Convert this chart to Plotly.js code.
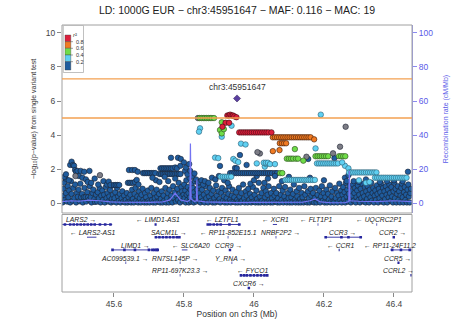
<!DOCTYPE html>
<html><head><meta charset="utf-8">
<script src="https://cdn.plot.ly/plotly-3.0.1.min.js"></script>
<style>html,body{margin:0;padding:0;background:#fff}#chart{width:474px;height:325px}</style>
</head><body><div id="chart"></div>
<script>
// ---------- association data: [position (Mb), -log10(p)] per r2 bin ----------
const leadSNP = [[45.951647, 6.15]];
const leadLabel = "chr3:45951647";

const snpR2_08 = [ // r2 >= 0.8 (red)
 [45.924,5.15],[45.928,5.15],[45.932,5.2],[45.936,5.15],[45.940,5.15],[45.944,5.1],[45.950,5.05],
 [45.919,4.72],[45.929,4.72],[45.910,4.49],
 [45.958,4.16],[45.964,4.16],[45.970,4.16],[45.976,4.16],[45.982,4.16],[45.988,4.16],[45.994,4.16],[46.000,4.16],
 [46.006,4.16],[46.012,4.16],[46.018,4.16],[46.024,4.16],[46.030,4.16],[46.036,4.16],[46.042,4.16],[46.050,4.16]
];
const snpR2_06 = [ // 0.6-0.8 (orange)
 [46.054,3.87],[46.060,3.87],[46.066,3.87],[46.072,3.87],[46.078,3.87],[46.084,3.87],[46.090,3.87],[46.096,3.87],
 [46.102,3.87],[46.108,3.87],[46.114,3.87],[46.120,3.87],[46.126,3.87],[46.132,3.87],[46.138,3.87],[46.144,3.87],
 [46.150,3.87],[46.156,3.87],[46.162,3.87],[46.172,3.75],
 [46.074,3.52],[46.080,3.52],[46.086,3.52],[46.092,3.52],
 [46.054,3.06],[46.073,3.12]
];
const snpR2_04 = [ // 0.4-0.6 (green)
 [45.845,5.0],[45.850,5.0],[45.855,5.0],[45.860,5.0],[45.865,5.0],[45.870,5.0],[45.875,5.0],[45.880,5.0],[45.886,5.0],
 [45.908,4.75],[45.903,4.3],[45.908,4.1],[45.914,4.35],[46.117,3.18],[46.141,2.5],
 [46.094,2.62],[46.100,2.62],[46.106,2.62],[46.112,2.62],[46.120,2.62],[46.126,2.62],
 [46.176,2.76],[46.182,2.76],[46.188,2.76],[46.194,2.76],[46.200,2.76],[46.206,2.76],[46.212,2.76],
 [46.243,2.76],[46.249,2.76],[46.255,2.76],[46.261,2.76],[46.075,1.77],[46.081,1.77]
];
const snpR2_02 = [ // 0.2-0.4 (light blue)
 [46.191,5.2],[45.846,4.4],[45.843,4.2],[45.908,3.9],[45.936,4.55],[45.963,3.5],[45.976,3.45],
 [45.941,2.6],[45.947,2.5],[45.955,2.42],[46.008,2.34],[46.031,2.15],[46.035,2.3],[45.889,2.68],[45.898,2.65],
 [45.905,1.56],[45.911,1.56],[45.917,1.56],[45.923,1.56],[45.929,1.56],[45.935,1.56],
 [46.028,2.38],[46.034,2.38],[46.040,2.38],[46.046,2.3],[46.060,2.3],
 [46.090,1.37],[46.096,1.37],[46.102,1.37],[46.108,1.37],[46.114,1.37],[46.120,1.37],[46.126,1.37],[46.132,1.37],
 [46.138,1.37],[46.144,1.37],[46.150,1.37],[46.156,1.37],[46.162,1.37],[46.168,1.37],[46.174,1.37],
 [46.180,2.34],[46.186,2.34],[46.192,2.34],[46.198,2.34],[46.204,2.34],[46.210,2.34],[46.216,2.34],[46.222,2.34],
 [46.228,2.34],[46.234,2.34],[46.240,2.34],[46.260,2.2],[46.270,2.05],[46.252,2.4],[46.176,3.22],
 [46.272,1.81],[46.278,1.81],[46.284,1.81],[46.290,1.81],[46.296,1.81],[46.302,1.81],[46.308,1.81],[46.314,1.81],
 [46.320,1.81],[46.326,1.81],[46.332,1.81],[46.338,1.81],[46.344,1.81],[46.350,1.81],
 [46.346,1.5],[46.352,1.5],[46.358,1.5],[46.364,1.5],[46.370,1.5],[46.376,1.5],[46.382,1.5],[46.388,1.5],
 [46.394,1.5],[46.400,1.5],[46.406,1.5],[46.412,1.5],[46.418,1.5],[46.424,1.5],[46.430,1.5],[46.436,1.5],
 [46.300,1.35],[46.320,1.2],[46.330,1.25]
];
const snpNoLD = [ // LD not available (grey)
 [46.262,4.49],[46.246,3.32],[46.017,2.92],[46.010,3.0],[46.226,2.93],[46.150,2.73],[45.560,1.65],[45.490,1.6],[45.840,5.0]
];
const snpR2_00_upper = [ // r2 < 0.2 (dark blue), upper scatter
 [45.458,1.55],[45.463,1.7],[45.471,1.35],[45.475,2.25],[45.479,2.44],[45.483,2.25],[45.486,2.2],[45.489,1.95],
 [45.492,1.85],[45.496,1.9],[45.500,1.6],[45.505,1.9],[45.510,1.5],[45.515,1.85],[45.520,1.4],[45.525,1.25],
 [45.530,1.9],[45.535,1.2],[45.545,1.45],[45.555,1.1],[45.570,1.3],[45.580,1.1],[45.585,1.27],[45.595,1.05],
 [45.590,1.07],[45.600,1.07],[45.605,1.07],[45.610,1.07],[45.615,1.07],
 [45.643,1.95],[45.652,1.95],[45.660,1.95],[45.668,1.85],
 [45.640,1.2],[45.645,1.2],[45.650,1.2],[45.655,1.2],[45.660,1.25],[45.665,1.37],[45.670,1.1],
 [45.683,1.77],[45.688,1.77],[45.693,1.77],[45.698,1.77],[45.703,1.77],[45.708,1.77],[45.713,1.77],[45.718,1.77],
 [45.730,1.72],[45.735,1.72],[45.740,1.72],[45.745,1.72],[45.750,1.72],[45.755,1.72],[45.760,1.72],[45.765,1.72],
 [45.770,1.72],[45.775,1.72],[45.780,1.72],[45.785,1.72],[45.790,1.72],
 [45.733,2.05],[45.738,2.05],[45.743,2.05],[45.748,2.05],[45.753,2.05],[45.758,2.05],[45.763,2.05],[45.768,2.05],
 [45.775,2.1],[45.780,2.05],[45.763,2.67],[45.783,2.67],[45.791,2.6],[45.790,2.2],[45.775,1.45],[45.755,1.3],
 [45.745,1.55],[45.720,1.35],[45.710,1.5],[45.730,1.25],
 [45.800,2.4],[45.803,1.9],[45.806,2.1],[45.810,1.7],[45.815,2.3],[45.818,1.9],[45.825,1.6],[45.830,1.75],
 [45.835,1.4],[45.840,1.2],[45.845,1.25],[45.850,1.35],[45.855,1.1],[45.860,1.3],[45.870,1.2],[45.880,1.5],
 [45.890,1.4],[45.903,2.19],[45.900,1.6],[45.915,1.35],[45.925,1.2],[45.946,2.07],[45.951,2.05],[45.979,2.25],
 [46.008,1.6],[45.990,1.15],[46.000,1.35],[46.030,1.2],[46.040,1.45],
 [45.932,1.77],[45.938,1.77],[45.944,1.77],[45.950,1.77],[45.956,1.77],[45.962,1.77],[45.968,1.77],[45.974,1.77],
 [45.980,1.77],[45.986,1.77],[45.992,1.77],[45.998,1.77],[46.004,1.77],[46.010,1.77],[46.016,1.77],[46.022,1.77],
 [46.028,1.77],[46.034,1.77],[46.040,1.77],[46.046,1.77],[46.052,1.77],[46.060,1.77],[46.066,1.77],
 [45.960,2.83],[46.155,2.6],[46.230,2.65],[46.200,1.35],[46.160,1.5],[46.100,1.55],[46.080,1.3],[46.060,1.6],
 [46.260,1.5],[46.265,1.3],[46.270,1.65],[46.285,1.3],[46.300,1.25],[46.320,1.4],[46.380,1.3],[46.400,1.35],
 [46.440,1.85],[46.425,1.3],[46.360,1.25]
];
const snpR2_00_base = [ // r2 < 0.2 (dark blue), dense band near zero
 [45.453,0.05],[45.455,0.45],[45.456,0.85],[45.458,1.2],[45.460,0.2],[45.462,1.45],[45.463,0.6],[45.466,0.1],[45.468,1.0],[45.470,0.35],[45.472,0.75],[45.475,0.05],[45.477,1.3],[45.479,0.55],[45.482,0.15],[45.484,0.9],[45.487,0.3],[45.489,1.1],[45.492,0.05],[45.494,0.6],[45.497,0.38],[45.499,0.8],
 [45.502,0.12],[45.504,1.15],[45.506,0.36],[45.509,0.55],[45.511,0.05],[45.514,0.36],[45.516,0.9],[45.519,0.36],[45.521,0.1],[45.524,0.65],[45.526,0.36],[45.529,0.2],[45.531,1.0],[45.534,0.36],[45.536,0.05],[45.539,0.6],[45.541,0.8],[45.544,0.25],[45.546,0.08],[45.549,0.5],
 [45.552,0.1],[45.554,0.65],[45.557,0.3],[45.559,0.9],[45.562,0.05],[45.564,0.45],[45.567,0.75],[45.569,0.2],[45.572,0.5],[45.574,0.05],[45.577,0.95],[45.579,0.3],[45.582,0.6],[45.584,0.1],[45.587,0.4],[45.589,0.78],[45.592,0.05],[45.594,0.25],[45.597,0.5],[45.599,0.1],
 [45.602,0.3],[45.604,0.65],[45.607,0.05],[45.609,0.9],[45.612,0.4],[45.614,0.15],[45.617,0.55],[45.619,0.05],[45.622,0.3],[45.624,0.7],[45.627,0.1],[45.629,0.45],[45.632,0.05],[45.634,0.2],[45.637,0.6],[45.639,0.05],[45.642,0.35],[45.645,0.1],[45.647,0.5],[45.649,0.05],
 [45.652,0.8],[45.654,0.25],[45.657,0.05],[45.659,0.55],[45.662,0.9],[45.664,0.15],[45.667,0.4],[45.669,0.05],[45.672,0.7],[45.674,0.3],[45.677,0.05],[45.679,0.5],[45.682,0.85],[45.684,0.2],[45.687,0.05],[45.689,0.6],[45.692,0.35],[45.694,0.05],[45.697,0.75],[45.699,0.15],
 [45.702,0.05],[45.704,0.45],[45.707,0.9],[45.709,0.2],[45.712,0.05],[45.714,0.6],[45.717,0.3],[45.719,0.05],[45.722,0.8],[45.724,0.4],[45.727,0.1],[45.729,0.55],[45.732,0.05],[45.734,0.25],[45.737,0.7],[45.739,0.05],[45.742,0.45],[45.744,0.15],[45.747,0.9],[45.749,0.05],
 [45.752,0.3],[45.754,0.6],[45.757,0.05],[45.759,0.8],[45.762,0.2],[45.764,0.45],[45.767,0.05],[45.769,1.0],[45.772,0.3],[45.774,0.65],[45.777,0.1],[45.779,0.45],[45.781,0.85],[45.783,0.2],[45.785,1.2],[45.787,0.55],[45.789,0.05],[45.791,0.35],[45.793,0.95],[45.795,0.7],[45.797,0.15],[45.799,0.5],
 [45.801,1.1],[45.802,0.3],[45.804,0.75],[45.805,0.05],[45.807,1.35],[45.808,0.5],[45.810,0.2],[45.811,0.95],[45.813,0.6],[45.814,0.05],[45.816,1.5],[45.817,0.35],[45.819,0.8],[45.820,0.1],[45.822,1.15],[45.823,0.55],[45.825,0.25],[45.826,0.9],[45.828,0.05],[45.829,0.65],[45.831,1.3],[45.833,0.4],[45.835,0.1],[45.837,0.8],[45.839,0.5],[45.841,0.2],[45.843,1.0],[45.845,0.6],[45.847,0.05],[45.849,0.35],
 [45.852,0.8],[45.854,0.15],[45.857,0.5],[45.859,0.05],[45.862,1.0],[45.864,0.3],[45.867,0.65],[45.869,0.05],[45.872,0.4],[45.874,0.9],[45.877,0.15],[45.879,0.55],[45.882,0.05],[45.884,0.75],[45.887,0.3],[45.889,0.05],[45.892,1.05],[45.894,0.45],[45.897,0.1],[45.899,0.7],
 [45.902,0.25],[45.904,0.05],[45.907,0.6],[45.909,0.9],[45.912,0.15],[45.914,0.4],[45.917,0.05],[45.919,0.75],[45.922,0.3],[45.924,0.05],[45.927,0.55],[45.929,1.0],[45.932,0.2],[45.934,0.05],[45.937,0.45],[45.939,0.8],[45.942,0.1],[45.944,0.35],[45.947,0.05],[45.949,0.65],
 [45.952,0.2],[45.954,0.05],[45.957,0.9],[45.959,0.4],[45.962,0.05],[45.964,0.6],[45.967,0.15],[45.969,1.1],[45.972,0.3],[45.974,0.05],[45.977,0.7],[45.979,0.45],[45.982,0.05],[45.984,0.85],[45.987,0.2],[45.989,0.55],[45.992,0.05],[45.994,0.35],[45.997,0.95],[45.999,0.1],
 [46.002,0.5],[46.004,0.05],[46.007,0.75],[46.009,0.25],[46.012,0.05],[46.014,1.2],[46.017,0.4],[46.019,0.05],[46.022,0.6],[46.024,0.15],[46.027,0.9],[46.029,0.05],[46.032,0.35],[46.034,0.7],[46.037,0.05],[46.039,0.5],[46.042,1.0],[46.044,0.2],[46.047,0.05],[46.049,0.6],
 [46.052,0.3],[46.054,0.05],[46.057,0.85],[46.059,0.45],[46.062,0.1],[46.064,0.6],[46.067,0.05],[46.069,0.3],[46.072,1.0],[46.074,0.05],[46.077,0.5],[46.079,0.2],[46.082,0.75],[46.084,0.05],[46.087,0.4],[46.089,0.95],[46.092,0.15],[46.094,0.05],[46.097,0.6],[46.099,0.3],
 [46.102,0.05],[46.104,0.8],[46.107,0.35],[46.109,0.05],[46.112,0.55],[46.114,1.1],[46.117,0.2],[46.119,0.05],[46.122,0.7],[46.124,0.4],[46.127,0.05],[46.129,0.9],[46.132,0.25],[46.134,0.05],[46.137,0.6],[46.139,0.35],[46.142,0.05],[46.144,1.0],[46.147,0.5],[46.149,0.1],
 [46.152,0.05],[46.154,0.7],[46.157,0.3],[46.159,0.05],[46.162,0.85],[46.164,0.45],[46.167,0.1],[46.169,0.6],[46.172,0.05],[46.174,0.3],[46.177,0.9],[46.179,0.05],[46.182,0.5],[46.184,0.2],[46.187,0.75],[46.189,0.05],[46.192,0.4],[46.194,1.0],[46.197,0.15],[46.199,0.6],
 [46.202,0.05],[46.204,0.35],[46.207,0.8],[46.209,0.05],[46.212,0.55],[46.214,0.2],[46.217,1.05],[46.219,0.05],[46.222,0.4],[46.224,0.7],[46.227,0.1],[46.229,0.05],[46.232,0.9],[46.234,0.3],[46.237,0.6],[46.239,0.05],[46.242,0.45],[46.244,1.15],[46.247,0.2],[46.249,0.75],
 [46.251,0.05],[46.253,0.5],[46.255,0.95],[46.257,0.25],[46.259,0.65],[46.261,0.05],[46.263,1.2],[46.265,0.4],[46.267,0.8],[46.269,0.1],[46.271,0.55],[46.273,1.0],[46.275,0.3],[46.277,0.05],[46.279,0.7],[46.281,0.45],[46.283,1.1],[46.285,0.15],[46.287,0.6],[46.289,0.9],[46.291,0.05],[46.293,0.35],[46.295,0.75],[46.297,1.05],[46.299,0.2],
 [46.301,0.5],[46.303,0.05],[46.305,0.85],[46.307,0.3],[46.309,1.15],[46.311,0.6],[46.313,0.1],[46.315,0.4],[46.317,0.95],[46.319,0.05],[46.321,0.7],[46.323,0.25],[46.325,1.0],[46.327,0.5],[46.329,0.05],[46.331,0.8],[46.333,0.35],[46.335,1.2],[46.337,0.15],[46.339,0.6],[46.341,0.9],[46.343,0.05],[46.345,0.45],[46.347,0.75],[46.349,0.2],
 [46.351,1.05],[46.353,0.55],[46.355,0.05],[46.357,0.85],[46.359,0.3],[46.361,0.65],[46.363,1.15],[46.365,0.1],[46.367,0.45],[46.369,0.9],[46.371,0.05],[46.373,0.7],[46.375,0.25],[46.377,1.0],[46.379,0.5],[46.381,0.05],[46.383,0.8],[46.385,0.35],[46.387,1.1],[46.389,0.6],[46.391,0.15],[46.393,0.95],[46.395,0.4],[46.397,0.05],[46.399,0.7],
 [46.401,1.2],[46.403,0.3],[46.405,0.85],[46.407,0.05],[46.409,0.55],[46.411,1.0],[46.413,0.2],[46.415,0.7],[46.417,0.05],[46.419,0.45],[46.421,0.9],[46.423,1.15],[46.425,0.35],[46.427,0.05],[46.429,0.65],[46.431,0.95],[46.433,0.2],[46.435,0.5],[46.437,0.05],[46.439,0.8],[46.441,1.1],[46.443,0.4],[46.445,0.05],[46.447,0.6],[46.449,0.85]
];

// ---------- recombination rate (cM/Mb) ----------
const recPos  = [45.4516,45.48,45.50,45.53,45.56,45.59,45.62,45.66,45.70,45.74,45.76,45.775,45.79,45.81,45.817,45.8185,45.8205,45.83,45.8355,45.837,45.8385,45.86,45.90,45.95,46.00,46.05,46.10,46.14,46.16,46.175,46.19,46.22,46.26,46.271,46.2725,46.2745,46.30,46.35,46.40,46.4516];
const recRate = [1.0,1.5,1.2,1.8,1.5,0.8,0.6,0.5,0.5,0.8,2.0,6.0,2.0,1.0,2.0,35.0,2.5,1.0,1.5,14.0,1.5,0.8,0.5,0.4,0.5,0.6,0.5,0.7,1.5,2.5,0.8,0.3,0.3,1.0,19.0,1.5,1.2,1.0,1.5,1.0];

// significance thresholds (-log10 p)
const sigLines = [7.3, 5.0];

// ---------- genes ----------
const geneName   = ["LARS2","LIMD1-AS1","LZTFL1","XCR1","FLT1P1","UQCRC2P1","LARS2-AS1","SACM1L","RP11-852E15.1","NRBF2P2","CCR3","CCR2","LIMD1","SLC6A20","CCR9","CCR1","RP11-24F11.2","AC099539.1","RN7SL145P","Y_RNA","CCR5","RP11-697K23.3","FYCO1","CCRL2","CXCR6"];
const geneStrand = ["+","-","-","-","-","-","-","+","-","+","+","+","+","-","+","-","-","+","+","+","+","+","-","+","+"];
const geneStart  = [45.452,45.716,45.866,46.054,46.182,46.350,45.523,45.717,45.925,46.062,46.203,46.396,45.594,45.794,45.928,46.242,46.390,45.633,45.788,45.936,46.410,45.788,45.960,46.447,45.982];
const geneEnd    = [45.595,45.722,45.961,46.066,46.184,46.352,45.550,45.789,45.927,46.064,46.309,46.403,45.726,45.810,45.935,46.245,46.451,45.635,45.790,45.938,46.416,45.790,46.040,46.451,45.989];
const geneRow    = [1,1,1,1,1,1,2,2,2,2,2,2,3,3,3,3,3,4,4,4,4,5,5,5,6];
const geneLabelX = [45.506,45.727,45.910,46.063,46.178,46.356,45.540,45.757,45.927,46.077,46.254,46.397,45.663,45.819,45.928,46.248,46.389,45.631,45.774,45.934,46.411,45.790,45.998,46.413,45.987];
const exonPos = [45.460,45.475,45.485,45.495,45.505,45.515,45.525,45.535,45.545,45.560,45.575,45.590,
                 45.868,45.875,45.885,45.895,45.905,45.930,45.958,
                 45.720,45.730,45.740,45.750,45.760,45.770,45.780,45.787,
                 45.596,45.630,45.660,45.700,45.710,45.716,45.722,45.725,
                 46.205,46.250,46.270,46.305,
                 45.963,45.972,45.980,45.990,46.000,46.010,46.020,46.030,46.038,
                 46.395,46.420,46.445];
const exonRow = [1,1,1,1,1,1,1,1,1,1,1,1, 1,1,1,1,1,1,1, 2,2,2,2,2,2,2,2, 3,3,3,3,3,3,3,3, 2,2,2,2, 5,5,5,5,5,5,5,5,5, 3,3,3];

// legend
const legendBreaks = ["0.8","0.6","0.4","0.2"];
const legendColors = ["#dc1f3c","#f07a22","#6fdc48","#5fd0f2","#1f5c9e"];

// ---------- build ----------
const FONT = "Liberation Sans, Arial, sans-serif";
const xs = a => a.map(p => p[0]);
const ys = a => a.map(p => p[1]);
const OUT = "#1b2230";
function pts(arr, color, size, outline) {
  return {type:"scatter", mode:"markers", x:xs(arr), y:ys(arr), xaxis:"x", yaxis:"y", hoverinfo:"skip",
    marker:{color:color, size:size||5.5, line:{color:outline||OUT, width:0.6}}, showlegend:false};
}
const traces = [];
traces.push({type:"scatter", mode:"lines", x:recPos, y:recRate, xaxis:"x", yaxis:"y2",
  line:{color:"#7474f2", width:1.2}, hoverinfo:"skip", showlegend:false});
traces.push(pts(snpR2_00_base, legendColors[4]));
traces.push(pts(snpR2_00_upper, legendColors[4]));
traces.push(pts(snpNoLD, "#7d7d86"));
traces.push(pts(snpR2_02, legendColors[3], 5.5, "#2a5a70"));
traces.push(pts(snpR2_04, legendColors[2], 5.5, "#2c4a20"));
traces.push(pts(snpR2_06, legendColors[1], 5.5, "#3a1a08"));
traces.push(pts(snpR2_08, legendColors[0], 5.5, "#3a0a10"));
traces.push({type:"scatter", mode:"markers", x:xs(leadSNP), y:ys(leadSNP), xaxis:"x", yaxis:"y",
  marker:{symbol:"diamond", color:"#5a3fa0", size:5.5, line:{color:"#2a1a50", width:0.5}}, hoverinfo:"skip", showlegend:false});

// genes
const GENE = "#26269e";
for (let i = 0; i < geneName.length; i++) {
  traces.push({type:"scatter", mode:"lines", x:[geneStart[i], geneEnd[i]], y:[-geneRow[i], -geneRow[i]],
    xaxis:"x", yaxis:"y3", line:{color:GENE, width:(geneEnd[i]-geneStart[i] < 0.012 ? 2.5 : 0.9)}, hoverinfo:"skip", showlegend:false});
}
traces.push({type:"scatter", mode:"markers", x:exonPos, y:exonRow.map(r => -r), xaxis:"x", yaxis:"y3",
  marker:{symbol:"square", size:2.6, color:GENE, line:{width:0}}, hoverinfo:"skip", showlegend:false});

const annotations = [];
for (let i = 0; i < geneName.length; i++) {
  const t = geneStrand[i] === "+" ? "<i>" + geneName[i] + "</i> \u2192" : "\u2190 <i>" + geneName[i] + "</i>";
  annotations.push({x:geneLabelX[i], y:-geneRow[i] + 0.36, xref:"x", yref:"y3", text:t, showarrow:false,
    font:{family:FONT, size:6.8, color:"#222"}, xanchor:"center", yanchor:"middle"});
}
annotations.push({x:leadSNP[0][0], y:leadSNP[0][1], xref:"x", yref:"y", text:leadLabel, showarrow:false,
  yshift:11, font:{family:FONT, size:8.5, color:"#333"}});

// legend drawn in paper coords
const P = (px) => (px - 62) / 350, Q = (py) => (292 - py) / 267;
const shapes = [];
shapes.push({type:"rect", xref:"paper", yref:"paper", x0:0, x1:1, y0:Q(213), y1:1, line:{color:"#a0a0a0", width:1}});
shapes.push({type:"rect", xref:"paper", yref:"paper", x0:0, x1:1, y0:0, y1:Q(214.5), line:{color:"#a0a0a0", width:1}});
sigLines.forEach(v => shapes.push({type:"line", xref:"paper", yref:"y", x0:0, x1:1, y0:v, y1:v, line:{color:"#f3a050", width:1.4}}));
shapes.push({type:"rect", xref:"paper", yref:"paper", x0:P(63.3), x1:P(83.5), y0:Q(72.5), y1:Q(25.5), line:{color:"#b0b0b0", width:0.8}, fillcolor:"#fff"});
const blockY = [35, 41.7, 48.3, 55, 61.7, 70];
for (let k = 0; k < 5; k++) {
  shapes.push({type:"rect", xref:"paper", yref:"paper", x0:P(65), x1:P(70.8), y0:Q(blockY[k+1]), y1:Q(blockY[k]),
    line:{color:"#444", width:0.4}, fillcolor:legendColors[k]});
}
for (let k = 0; k < 4; k++) {
  shapes.push({type:"line", xref:"paper", yref:"paper", x0:P(70.8), x1:P(73), y0:Q(blockY[k+1]), y1:Q(blockY[k+1]), line:{color:"#444", width:0.5}});
  annotations.push({x:P(73.5), y:Q(blockY[k+1]), xref:"paper", yref:"paper", text:legendBreaks[k], showarrow:false,
    xanchor:"left", yanchor:"middle", font:{family:FONT, size:5.5, color:"#333"}});
}
annotations.push({x:P(70.5), y:Q(29.8), xref:"paper", yref:"paper", text:"<i>r</i>\u00b2", showarrow:false,
  font:{family:FONT, size:6, color:"#333"}});

const layout = {
  width:474, height:325, margin:{l:62, r:62, t:25, b:33}, paper_bgcolor:"#fff", plot_bgcolor:"#fff",
  font:{family:FONT, color:"#333"}, showlegend:false,
  title:{text:"LD: 1000G EUR \u2212 chr3:45951647 \u2212 MAF: 0.116 \u2212 MAC: 19", x:0.5, xanchor:"center", y:0.967, yanchor:"middle",
    font:{family:FONT, size:10.5, color:"#222"}},
  xaxis:{domain:[0,1], anchor:"y3", range:[45.4516,46.4516], showgrid:false, zeroline:false, showline:false,
    tickvals:[45.6,45.8,46,46.2,46.4], ticktext:["45.6","45.8","46","46.2","46.4"], ticks:"outside", ticklen:4, tickcolor:"#888",
    tickfont:{family:FONT, size:8.5, color:"#444"},
    title:{text:"Position on chr3 (Mb)", font:{family:FONT, size:8.5, color:"#333"}, standoff:2}},
  yaxis:{domain:[Q(213),1], anchor:"x", range:[-0.57,10.46], showgrid:false, zeroline:false, showline:false,
    tickvals:[0,2,4,6,8,10], ticks:"outside", ticklen:4, tickcolor:"#888", tickfont:{family:FONT, size:8.5, color:"#444"},
    title:{text:"\u2212log<sub>10</sub>(p\u2212value) from single variant test", font:{family:FONT, size:7, color:"#333"}, standoff:8}},
  yaxis2:{overlaying:"y", side:"right", anchor:"x", range:[-5.7,104.6], showgrid:false, zeroline:false,
    showline:true, linecolor:"#9a9af2", linewidth:1, tickvals:[0,20,40,60,80,100], ticks:"outside", ticklen:4, tickcolor:"#8a8af0",
    tickfont:{family:FONT, size:8.5, color:"#5a5ae8"},
    title:{text:"Recombination rate (cM/Mb)", font:{family:FONT, size:7, color:"#5a5ae8"}, standoff:10}},
  yaxis3:{domain:[0,Q(214.5)], anchor:"x", range:[-6.31,-0.215], visible:false, showgrid:false, zeroline:false},
  shapes:shapes, annotations:annotations
};
Plotly.newPlot("chart", traces, layout, {staticPlot:true, displayModeBar:false});
</script></body></html>
